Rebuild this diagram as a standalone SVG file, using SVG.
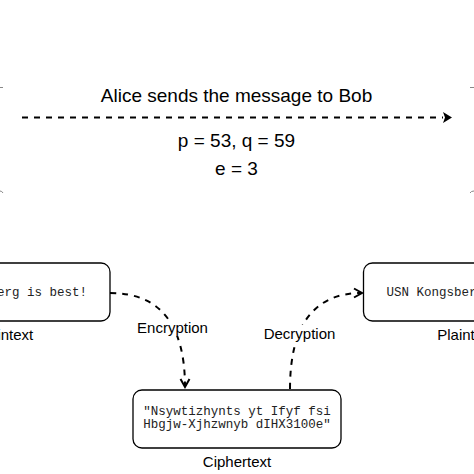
<svg xmlns="http://www.w3.org/2000/svg" width="474" height="474" viewBox="0 0 474 474">
  <style>
    .box { fill: #fff; stroke: #000; stroke-width: 1.3; }
    .mono { font-family: "Liberation Mono", "Courier New", monospace; font-size: 12.5px; fill: #222; text-anchor: middle; }
    .lbl { font-family: "Liberation Sans", Arial, Helvetica, sans-serif; font-size: 15px; fill: #000; text-anchor: middle; }
    .big { font-family: "Liberation Sans", Arial, Helvetica, sans-serif; font-size: 19px; fill: #000; text-anchor: middle; }
    .dash { fill: none; stroke: #000; stroke-width: 2; stroke-dasharray: 6 6; }
    .tick { fill: none; stroke: #888; stroke-width: 1; }
  </style>
  <defs>
    <marker id="open" markerUnits="userSpaceOnUse" viewBox="-2 -7 14 14" markerWidth="14" markerHeight="14" refX="9" refY="0" orient="auto">
      <path d="M1,-4.5 L9,0 L1,4.5" fill="none" stroke="#000" stroke-width="2" stroke-dasharray="none"/>
    </marker>
    <marker id="filled" markerUnits="userSpaceOnUse" viewBox="-1 -7 12 14" markerWidth="12" markerHeight="14" refX="0" refY="0" orient="auto">
      <path d="M0,-5.5 L9,0 L0,5.5 L2,0 Z" fill="#000" stroke="none"/>
    </marker>
  </defs>

  <rect width="474" height="474" fill="#fff"/>

  <g id="edge-marks">
    <path class="tick" d="M0,87.5 L3,87.5"/>
    <path class="tick" d="M0,191 Q2,191 3,193"/>
    <path class="tick" d="M470,87.5 L474,87.5"/>
    <path class="tick" d="M474,191 Q471,191 470,193"/>
  </g>

  <g id="connectors">
    <path id="send" class="dash" d="M22,117.5 L443,117.5" marker-end="url(#filled)"/>
    <path id="encrypt" class="dash" d="M110,293 Q185,293 185,387" marker-end="url(#open)"/>
    <path id="decrypt" class="dash" d="M290,389 Q290,293 362,293" marker-end="url(#open)"/>
  </g>

  <g id="send-label">
    <text class="big" x="236.5" y="102">Alice sends the message to Bob</text>
    <text class="big" x="236.5" y="147">p = 53, q = 59</text>
    <text class="big" x="236.5" y="175">e = 3</text>
  </g>

  <g id="plaintext-left">
    <rect class="box" x="-101" y="263" width="211" height="58" rx="9"/>
    <text class="mono" x="4.5" y="296">USN Kongsberg is best!</text>
    <text class="lbl" x="4.5" y="340">Plaintext</text>
  </g>

  <g id="plaintext-right">
    <rect class="box" x="363.5" y="263" width="211" height="58" rx="9"/>
    <text class="mono" x="469" y="296">USN Kongsberg is best!</text>
    <text class="lbl" x="466" y="340">Plaintext</text>
  </g>

  <g id="ciphertext">
    <rect class="box" x="133" y="390" width="208" height="58" rx="9"/>
    <text class="mono" x="237" y="415">"Nsywtizhynts yt Ifyf fsi</text>
    <text class="mono" x="237" y="428">Hbgjw-Xjhzwnyb dIHX3100e"</text>
    <text class="lbl" x="237" y="467">Ciphertext</text>
  </g>

  <g id="encryption-label">
    <rect x="136" y="320" width="73" height="16" fill="#fff"/>
    <text class="lbl" x="172.5" y="333">Encryption</text>
  </g>

  <g id="decryption-label">
    <rect x="263" y="325" width="73" height="17" fill="#fff"/>
    <text class="lbl" x="299.5" y="339">Decryption</text>
  </g>
</svg>
